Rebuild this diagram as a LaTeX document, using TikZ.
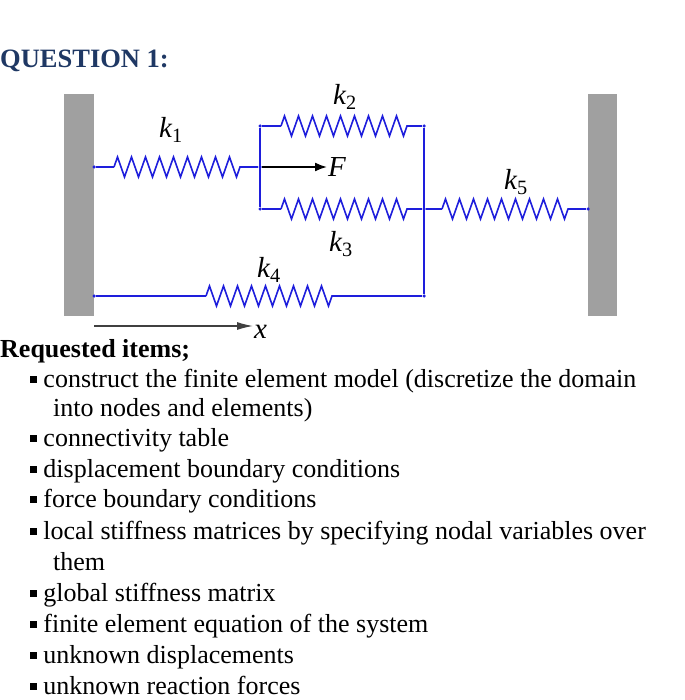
\documentclass[tikz,border=0pt]{standalone}
\usepackage{fontspec}
\setmainfont{Liberation Serif}
\usetikzlibrary{decorations.pathmorphing,arrows.meta}
\definecolor{sblue}{RGB}{30,30,220}
\definecolor{navy}{RGB}{31,56,100}
\definecolor{wallgray}{RGB}{160,160,160}
\newcommand{\sqb}{\raisebox{0.32ex}{\rule{0.26em}{0.26em}}}
\tikzset{
  wire/.style={sblue,line width=1.6pt},
  spr/.style={wire,decorate,decoration={zigzag,segment length=14pt,amplitude=10pt}},
  wall/.style={fill=wallgray,draw=none},
  dot/.style={circle,fill=sblue,inner sep=0pt,minimum size=3.5pt},
  lab/.style={font=\fontsize{29}{31}\selectfont\itshape},
  item/.style={anchor=base west,inner sep=0pt,font=\fontsize{26}{28}\selectfont},
}
\begin{document}
\begin{tikzpicture}[x=1pt,y=-1pt]
\useasboundingbox (0,0) rectangle (684,700);
\node[anchor=base west,inner sep=0pt,text=navy,font=\fontsize{26.5}{28}\selectfont\bfseries] (q) at (0,68) {QUESTION 1:};
% walls
\fill[wall] (64,94) rectangle (94,316);
\fill[wall] (588,94) rectangle (617,316);
% coordinates
\coordinate (s1a) at (114,167); \coordinate (s1b) at (241,167);
\node[dot] (j1) at (260,167) {};
\node[dot] (t1) at (260,126) {}; \node[dot] (b1) at (260,209) {};
\coordinate (s2a) at (281,126); \coordinate (s2b) at (408,126);
\node[dot] (t2) at (424,126) {};
\coordinate (s3a) at (281,209); \coordinate (s3b) at (408,209);
\node[dot] (b2) at (424,209) {};
\node[dot] (c2) at (424,296) {};
\coordinate (s5a) at (442,209); \coordinate (s5b) at (569,209);
\node[dot] (a5) at (588,209) {};
\node[dot] (a4) at (94,296) {};
\coordinate (s4a) at (206,296); \coordinate (s4b) at (333,296);
\node[dot] (a0) at (94,167) {};
% springs and wires
\draw[wire] (a0) -- (s1a); \draw[spr] (s1a) -- (s1b); \draw[wire] (s1b) -- (j1);
\draw[wire] (t1) -- (b1);
\draw[wire] (t1) -- (s2a); \draw[spr] (s2a) -- (s2b); \draw[wire] (s2b) -- (t2);
\draw[wire] (b1) -- (s3a); \draw[spr] (s3a) -- (s3b); \draw[wire] (s3b) -- (b2);
\draw[wire] (t2) -- (c2);
\draw[wire] (b2) -- (s5a); \draw[spr] (s5a) -- (s5b); \draw[wire] (s5b) -- (a5);
\draw[wire] (a4) -- (s4a); \draw[spr] (s4a) -- (s4b); \draw[wire] (s4b) -- (c2);
% force
\coordinate (fe) at (327,167);
\draw[line width=1.8pt,-{Latex[length=12pt,width=9pt]}] (j1) -- (fe);
\node[lab,anchor=west,inner sep=1pt] (F) at (fe) {F};
% x axis
\coordinate (x0) at (94,326); \coordinate (x1) at (253,326);
\draw[line width=1.2pt,black!75,-{Latex[length=16pt,width=8pt]}] (x0) -- (x1);
\node[lab,anchor=west,inner sep=2pt] (xl) at (252,332) {x};
% labels
\node[lab] (k1) at (171,130) {k\textsubscript{\upshape 1}};
\node[lab] (k2) at (345,97) {k\textsubscript{\upshape 2}};
\node[lab] (k3) at (341,244) {k\textsubscript{\upshape 3}};
\node[lab] (k4) at (269,270) {k\textsubscript{\upshape 4}};
\node[lab] (k5) at (516,182) {k\textsubscript{\upshape 5}};
% text
\node[item,font=\fontsize{26}{28}\selectfont\bfseries] (r) at (0,357) {Requested items;};
\foreach \t/\y/\xx in {%
 {\sqb\ construct the finite element model (discretize the domain}/387/30,
 {into nodes and elements)}/416/53,
 {\sqb\ connectivity table}/446/30,
 {\sqb\ displacement boundary conditions}/477/30,
 {\sqb\ force boundary conditions}/507/30,
 {\sqb\ local stiffness matrices by specifying nodal variables over}/539/30,
 {them}/570/53,
 {\sqb\ global stiffness matrix}/601/30,
 {\sqb\ finite element equation of the system}/632/30,
 {\sqb\ unknown displacements}/663/30,
 {\sqb\ unknown reaction forces}/694/30}
 \node[item] at (\xx,\y) {\t};
\end{tikzpicture}
\end{document}
